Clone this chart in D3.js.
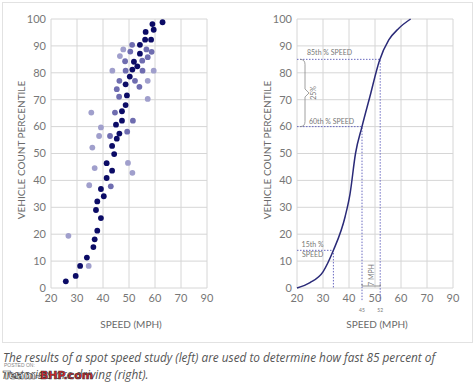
<!DOCTYPE html>
<html>
<head>
<meta charset="utf-8">
<script src="https://cdn.jsdelivr.net/npm/d3@7"></script>
<style>
  body { margin: 0; background: #fff; }
  svg { display: block; }
</style>
</head>
<body>
<script>
// ---- data ----
const xTickValues = [20, 30, 40, 50, 60, 70, 80];
const xTickLabels = ["20", "30", "40", "50", "60", "70", "90"]; // the original skips 80
const yTickValues = [0, 10, 20, 30, 40, 50, 60, 70, 80, 90, 100];

// spot speed study, dark dots
const darkSpeed = [25.7, 29.5, 31.2, 33.8, 36.3, 36.8, 37.8, 39.2, 37.3, 37.8, 40.3, 39.2, 41.4, 43.5, 41.4,
  44.3, 43.5, 45.3, 46.3, 45, 47.3, 47.3, 48.7, 49.2, 48.7, 50.3, 51.3, 53.2, 51.9, 54.2, 54.2, 56.2, 58.5,
  56.4, 59.5, 59, 62.9];
const darkPct = [2.5, 4.5, 8.2, 11.3, 15.2, 18.1, 21.3, 26, 29, 32.2, 34.1, 36.8, 40.9, 43.6, 46.4,
  49.8, 52.8, 55.5, 57.4, 60.7, 62.2, 65.7, 68, 71.6, 75.7, 78.6, 81.2, 82.4, 84.1, 87.1, 90.4, 92.3, 92.3,
  95.2, 96, 98.1, 98.8];
// medium dots
const midSpeed = [51.2, 50.5, 56.7, 58.7, 57.2, 55.1, 48.5, 48.7, 55.2, 46.3, 52.3, 54, 45.3, 46.2, 44.6,
  51.5, 42.7, 49.3, 43];
const midPct = [90.4, 87.9, 88.7, 87.8, 85.8, 84.5, 84.3, 80.8, 80.8, 77, 77, 74.8, 73.9, 71.1, 65.2,
  62.2, 56.5, 58.1, 37.8];
// light dots
const lightSpeed = [47.8, 46.5, 43.6, 59.5, 57.2, 57.2, 35.5, 39.2, 38.5, 35.9, 49.6, 51.3, 36.8, 34.7, 26.7, 34.5];
const lightPct = [88.7, 86.2, 80.8, 80.8, 77, 70.3, 65.2, 59.7, 56.5, 52.2, 46.5, 42.8, 44.6, 38.2, 19.4, 8.2];

// cumulative curve
const curveSpeed = [20, 25, 30, 34, 38.5, 40.4, 42.5, 45, 48, 51.7, 55.3, 59.1, 63.7];
const curvePct = [0, 2, 6, 14, 26.5, 35, 50, 60, 71, 84.5, 92.2, 96.5, 100];

// marked percentiles
const p15 = { speed: 34, pct: 14 };
const p60 = { speed: 45, pct: 60 };
const p85 = { speed: 52, pct: 85 };

const caption = [
  "The results of a spot speed study (left) are used to determine how fast 85 percent of",
  "motorists are driving (right)."
];

// ---- layout ----
const width = 474, height = 384;
const gridColor = "#d6d6d6", tickColor = "#777", titleColor = "#6a6a6a";
const dark = "#0b0b66", mid = "#6f6db0", light = "#a09fcc", dotted = "#6a6ac0";
const font = "Lato, 'Open Sans', sans-serif";

const svg = d3.select("body").append("svg")
  .attr("width", width).attr("height", height);

// outer frame
svg.append("rect")
  .attr("x", 2.5).attr("y", 2.5).attr("width", 470).attr("height", 340)
  .attr("fill", "none").attr("stroke", "#e2e2e2");

const y = d3.scaleLinear().domain([0, 100]).range([288, 19]);

function panel(x0, x1) {
  const x = d3.scaleLinear().domain([20, 80]).range([x0, x1]);
  const g = svg.append("g");

  g.append("g").selectAll("line").data(xTickValues).join("line")
    .attr("x1", d => x(d)).attr("x2", d => x(d))
    .attr("y1", y(0)).attr("y2", y(100))
    .attr("stroke", gridColor);
  g.append("g").selectAll("line").data(yTickValues).join("line")
    .attr("x1", x(20)).attr("x2", x(80))
    .attr("y1", d => y(d)).attr("y2", d => y(d))
    .attr("stroke", gridColor);

  g.append("g").attr("font-family", font).attr("font-size", 11).attr("fill", tickColor)
    .selectAll("text").data(xTickValues).join("text")
    .attr("x", d => x(d)).attr("y", 302)
    .attr("text-anchor", "middle")
    .text((d, i) => xTickLabels[i]);
  g.append("g").attr("font-family", font).attr("font-size", 11).attr("fill", tickColor)
    .selectAll("text").data(yTickValues).join("text")
    .attr("x", x0 - 5).attr("y", d => y(d)).attr("dy", "0.35em")
    .attr("text-anchor", "end")
    .text(d => d);

  g.append("text")
    .attr("x", (x0 + x1) / 2 + 2).attr("y", 328)
    .attr("text-anchor", "middle")
    .attr("font-family", font).attr("font-size", 10).attr("fill", titleColor)
    .text("SPEED (MPH)");
  g.append("text")
    .attr("transform", `translate(${x0 - 30},150) rotate(-90)`)
    .attr("text-anchor", "middle").attr("dy", "0.35em")
    .attr("font-family", font).attr("font-size", 10).attr("fill", titleColor)
    .text("VEHICLE COUNT PERCENTILE");
  return { g, x };
}

// ---- left: scatter ----
const left = panel(51, 207);
function dots(speeds, pcts, color) {
  left.g.append("g").selectAll("circle").data(speeds).join("circle")
    .attr("cx", d => left.x(d))
    .attr("cy", (d, i) => y(pcts[i]))
    .attr("r", 2.9)
    .attr("fill", color);
}
dots(lightSpeed, lightPct, light);
dots(midSpeed, midPct, mid);
dots(darkSpeed, darkPct, dark);

// ---- right: cumulative curve ----
const right = panel(297, 453);
const xr = right.x;
const rg = right.g;

function guide(p, extend) {
  rg.append("path")
    .attr("d", `M${xr(20)},${y(p.pct)}H${xr(p.speed)}V${y(0) + extend}`)
    .attr("fill", "none").attr("stroke", dotted)
    .attr("stroke-width", 1).attr("stroke-dasharray", "1.5,1.5");
}
guide(p15, 0);
guide(p60, 13);
guide(p85, 13);

const line = d3.line().curve(d3.curveMonotoneX)
  .x(d => xr(d)).y((d, i) => y(curvePct[i]));
rg.append("path")
  .attr("d", line(curveSpeed))
  .attr("fill", "none").attr("stroke", "#2a2a78").attr("stroke-width", 1.5);

const small = rg.append("g").attr("font-family", font).attr("fill", "#777");
small.append("text").attr("x", xr(20) + 10).attr("y", y(p85.pct) - 4)
  .attr("font-size", 7).text("85th % SPEED");
small.append("text").attr("x", xr(20) + 12).attr("y", y(p60.pct) - 3)
  .attr("font-size", 7).text("60th % SPEED");
small.append("text").attr("x", xr(26)).attr("y", y(p15.pct) - 3)
  .attr("font-size", 7).attr("text-anchor", "middle").text("15th %");
small.append("text").attr("x", xr(26)).attr("y", y(p15.pct) + 7)
  .attr("font-size", 7).attr("text-anchor", "middle").text("SPEED");

// brace spanning 60th..85th
const bx = xr(20) + 3, yt = y(p85.pct), yb = y(p60.pct), ym = (yt + yb) / 2;
rg.append("path")
  .attr("d", `M${bx},${yt}Q${bx + 5},${yt} ${bx + 5},${yt + 5}V${ym - 4}L${bx + 9},${ym}L${bx + 5},${ym + 4}V${yb - 5}Q${bx + 5},${yb} ${bx},${yb}`)
  .attr("fill", "none").attr("stroke", "#888").attr("stroke-width", 0.8);
small.append("text")
  .attr("transform", `translate(${bx + 16},${ym}) rotate(-90)`)
  .attr("text-anchor", "middle").attr("font-size", 7).text("25%");

// 7 MPH span between 60th and 85th speeds
rg.append("path")
  .attr("d", `M${xr(p60.speed)},${y(0) - 4}V${y(0) - 2}H${xr(p85.speed)}V${y(0) - 4}`)
  .attr("fill", "none").attr("stroke", "#777").attr("stroke-width", 0.8);
small.append("text")
  .attr("transform", `translate(${(xr(p60.speed) + xr(p85.speed)) / 2 + 3},${y(0) - 13}) rotate(-90)`)
  .attr("text-anchor", "middle").attr("font-size", 7).text("7 MPH");
small.selectAll(".sp").data([p60, p85]).join("text")
  .attr("x", d => xr(d.speed)).attr("y", 312)
  .attr("text-anchor", "middle").attr("font-size", 5).text(d => d.speed);

// ---- caption ----
svg.append("g").attr("font-family", "'Open Sans', sans-serif").attr("font-style", "italic")
  .attr("font-size", 11.8).attr("fill", "#555")
  .selectAll("text").data(caption).join("text")
  .attr("x", 3).attr("y", (d, i) => 362 + i * 17)
  .text(d => d);

// watermark (overlaps the caption, as in the source image)
svg.append("text").attr("x", 4).attr("y", 367)
  .attr("font-family", "sans-serif").attr("font-size", 5).attr("fill", "#888").text("POSTED ON:");
const wm = svg.append("text").attr("x", 3).attr("y", 379)
  .attr("font-family", "'DejaVu Sans', sans-serif").attr("font-weight", "bold").attr("font-size", 11)
  .attr("stroke", "#333").attr("stroke-width", 0.6);
wm.append("tspan").attr("fill", "#fff").text("Team-");
wm.append("tspan").attr("fill", "#d8262b").text("BHP.com");
</script>
</body>
</html>
